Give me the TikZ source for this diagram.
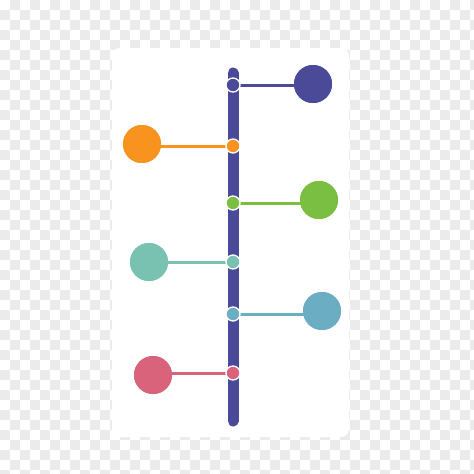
\documentclass[tikz,border=0pt]{standalone}
\usetikzlibrary{calc}
\definecolor{checker}{HTML}{EBEBEB}
\definecolor{barblue}{HTML}{4A4A98}
\definecolor{corange}{HTML}{F7931E}
\definecolor{cgreen}{HTML}{7BBF42}
\definecolor{cteal}{HTML}{79C1B1}
\definecolor{cblue}{HTML}{6BADC3}
\definecolor{cred}{HTML}{D8637A}
\tikzset{
  big/.style={circle, fill=#1, minimum size=38pt, inner sep=0pt},
  dot/.style={circle, fill=#1, draw=white, line width=1.3pt, minimum size=14pt, inner sep=0pt},
  link/.style={draw=#1, line width=3pt},
}
\begin{document}
\begin{tikzpicture}[x=1pt,y=-1pt]
\useasboundingbox (0,0) rectangle (474,474);
\fill[white] (0,0) rectangle (474,474);
\foreach \i in {0,...,47}{
  \foreach \j in {0,...,47}{
    \pgfmathtruncatemacro{\p}{mod(\i+\j,2)}
    \ifnum\p=1 \fill[checker] (\i*10,\j*10) rectangle ++(10,10);\fi
  }
}
% panel
\fill[white, rounded corners=8pt] (112,48) rectangle (349,437);
% bar
\coordinate (btop) at (233,73);
\coordinate (bbot) at (233,421);
\draw[barblue, line width=11pt, line cap=round] (btop) -- (bbot);
% big circles
\node[big=barblue] (b1) at (313,84) {};
\node[big=corange] (b2) at (142,144) {};
\node[big=cgreen] (b3) at (319,200) {};
\node[big=cteal] (b4) at (149,262) {};
\node[big=cblue] (b5) at (322,311) {};
\node[big=cred] (b6) at (153,375) {};
% link anchors on the bar
\coordinate (d1) at (233,85);
\coordinate (d2) at (233,146);
\coordinate (d3) at (233,203);
\coordinate (d4) at (233,262);
\coordinate (d5) at (233,314);
\coordinate (d6) at (233,373);
\draw[link=barblue] (d1) -- (d1 -| b1);
\draw[link=corange] (d2) -- (d2 -| b2);
\draw[link=cgreen] (d3) -- (d3 -| b3);
\draw[link=cteal] (d4) -- (d4 -| b4);
\draw[link=cblue] (d5) -- (d5 -| b5);
\draw[link=cred] (d6) -- (d6 -| b6);
% redraw big circles on top of links
\node[big=barblue] at (b1) {};
\node[big=corange] at (b2) {};
\node[big=cgreen] at (b3) {};
\node[big=cteal] at (b4) {};
\node[big=cblue] at (b5) {};
\node[big=cred] at (b6) {};
% small dots
\node[dot=barblue] (s1) at (d1) {};
\node[dot=corange] (s2) at (d2) {};
\node[dot=cgreen] (s3) at (d3) {};
\node[dot=cteal] (s4) at (d4) {};
\node[dot=cblue] (s5) at (d5) {};
\node[dot=cred] (s6) at (d6) {};
\end{tikzpicture}
\end{document}
